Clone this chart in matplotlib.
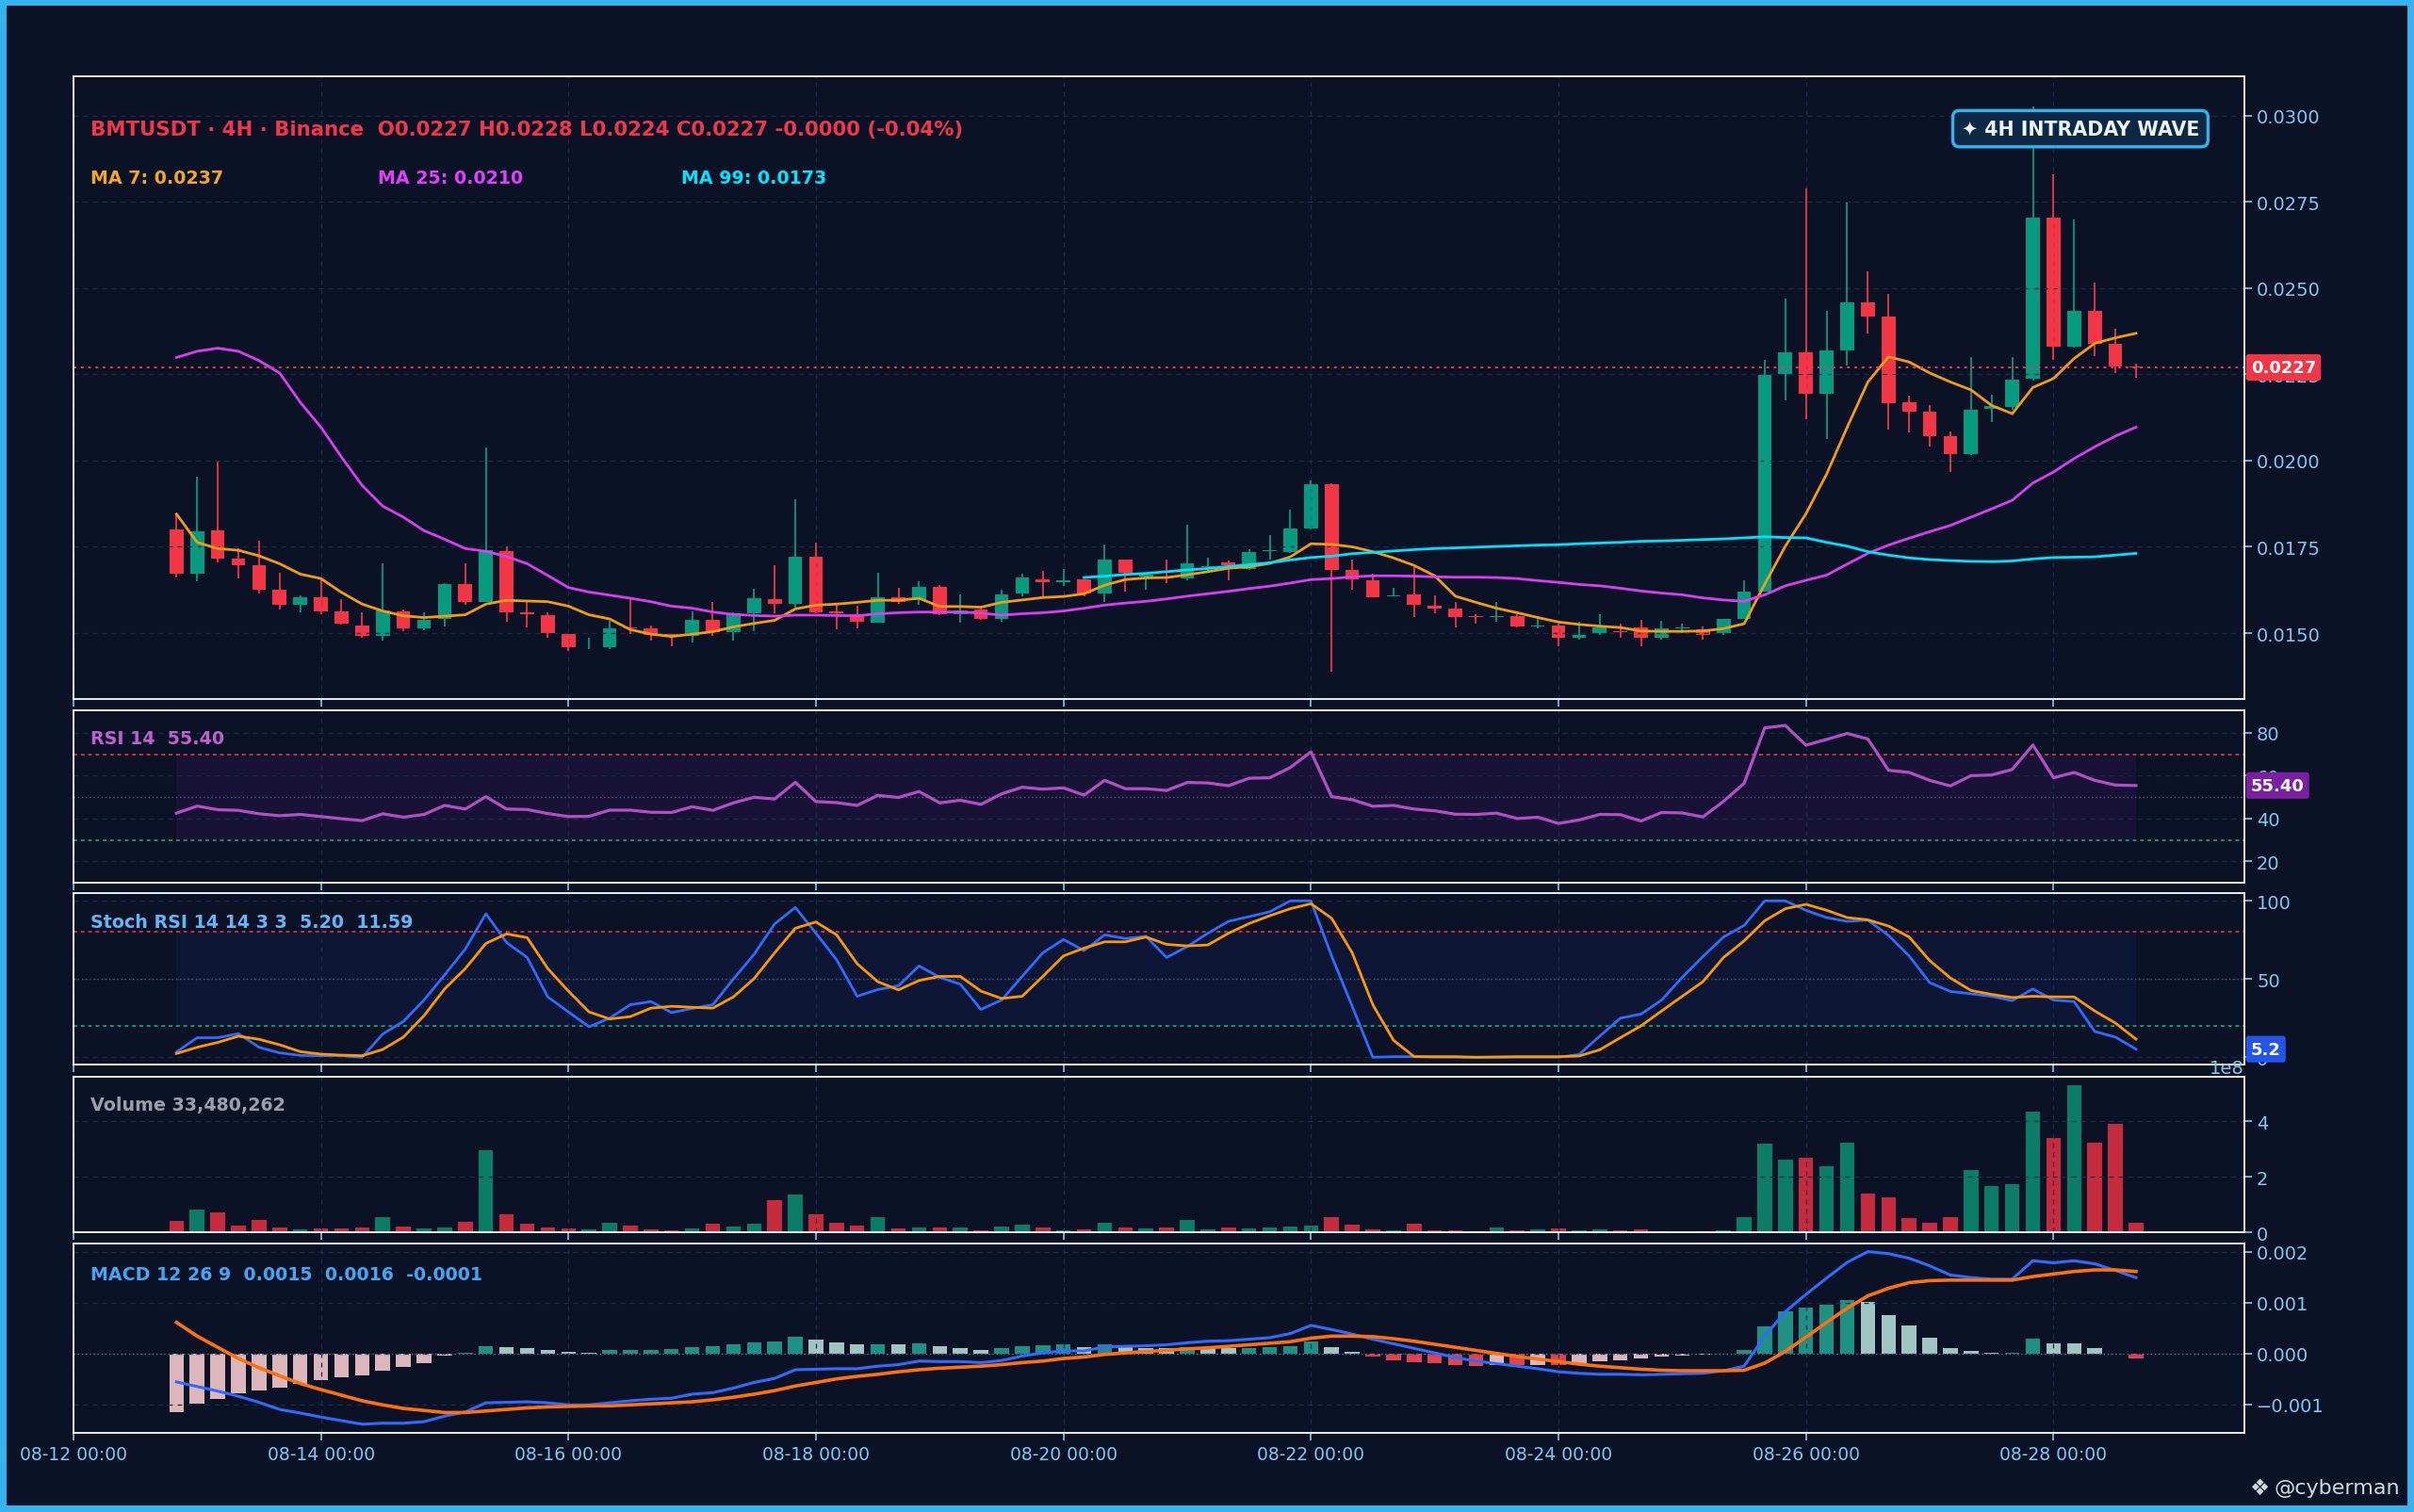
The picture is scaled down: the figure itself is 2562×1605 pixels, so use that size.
import matplotlib
matplotlib.use("Agg")
import matplotlib.dates as mdates
import matplotlib.pyplot as plt
import matplotlib.transforms as mtransforms
import numpy as np
import pandas as pd
from matplotlib.patches import Rectangle
from matplotlib.ticker import FixedLocator, FormatStrFormatter

# ---------------- data (BMTUSDT 4H) ----------------
FIRST_BAR = "2025-08-12 20:00"
N_BARS = 96
X_RANGE = ["2025-08-12 00:00", "2025-08-29 13:00"]
TICK_DATES = ["2025-08-12", "2025-08-14", "2025-08-16", "2025-08-18", "2025-08-20",
              "2025-08-22", "2025-08-24", "2025-08-26", "2025-08-28"]

OPEN = [0.01800, 0.01671, 0.01798, 0.01715, 0.01696, 0.01625, 0.01583, 0.01603, 0.01564, 0.01523,
        0.01491, 0.01564, 0.01513, 0.01540, 0.01641, 0.01589, 0.01737, 0.01561, 0.01553, 0.01498,
        0.01458, 0.01460, 0.01517, 0.01515, 0.01497, 0.01491, 0.01537, 0.01502, 0.01557, 0.01599,
        0.01584, 0.01720, 0.01564, 0.01555, 0.01529, 0.01605, 0.01596, 0.01635, 0.01555, 0.01568,
        0.01540, 0.01614, 0.01656, 0.01647, 0.01657, 0.01616, 0.01714, 0.01665, 0.01664, 0.01658,
        0.01690, 0.01705, 0.01687, 0.01737, 0.01736, 0.01802, 0.01931, 0.01683, 0.01654, 0.01607,
        0.01613, 0.01579, 0.01572, 0.01548, 0.01546, 0.01550, 0.01518, 0.01523, 0.01485, 0.01500,
        0.01505, 0.01517, 0.01485, 0.01513, 0.01510, 0.01500, 0.01540, 0.01621, 0.02251, 0.02313,
        0.02194, 0.02319, 0.02458, 0.02417, 0.02170, 0.02141, 0.02070, 0.02019, 0.02149, 0.02155,
        0.02238, 0.02704, 0.02331, 0.02433, 0.02338, 0.02271]
HIGH = [0.01845, 0.01954, 0.01998, 0.01745, 0.01767, 0.01674, 0.01609, 0.01659, 0.01597, 0.01559,
        0.01701, 0.01568, 0.01559, 0.01644, 0.01701, 0.02039, 0.01751, 0.01593, 0.01561, 0.01498,
        0.01487, 0.01536, 0.01598, 0.01523, 0.01498, 0.01564, 0.01589, 0.01559, 0.01629, 0.01698,
        0.01887, 0.01761, 0.01584, 0.01578, 0.01676, 0.01632, 0.01649, 0.01640, 0.01613, 0.01573,
        0.01627, 0.01671, 0.01679, 0.01687, 0.01657, 0.01758, 0.01714, 0.01674, 0.01712, 0.01813,
        0.01719, 0.01710, 0.01744, 0.01783, 0.01857, 0.01942, 0.01933, 0.01714, 0.01671, 0.01632,
        0.01691, 0.01610, 0.01591, 0.01555, 0.01591, 0.01557, 0.01550, 0.01526, 0.01534, 0.01554,
        0.01527, 0.01538, 0.01536, 0.01527, 0.01520, 0.01541, 0.01654, 0.02291, 0.02469, 0.02788,
        0.02433, 0.02748, 0.02548, 0.02482, 0.02187, 0.02160, 0.02084, 0.02299, 0.02190, 0.02299,
        0.03028, 0.02829, 0.02699, 0.02516, 0.02382, 0.02280]
LOW = [0.01660, 0.01650, 0.01705, 0.01658, 0.01616, 0.01568, 0.01561, 0.01554, 0.01524, 0.01485,
       0.01477, 0.01506, 0.01509, 0.01520, 0.01581, 0.01589, 0.01534, 0.01517, 0.01485, 0.01449,
       0.01454, 0.01454, 0.01496, 0.01477, 0.01461, 0.01473, 0.01491, 0.01479, 0.01506, 0.01558,
       0.01570, 0.01557, 0.01510, 0.01513, 0.01529, 0.01584, 0.01581, 0.01552, 0.01529, 0.01537,
       0.01532, 0.01606, 0.01605, 0.01636, 0.01606, 0.01591, 0.01620, 0.01625, 0.01645, 0.01652,
       0.01680, 0.01652, 0.01683, 0.01714, 0.01733, 0.01800, 0.01388, 0.01625, 0.01603, 0.01607,
       0.01546, 0.01557, 0.01516, 0.01526, 0.01532, 0.01516, 0.01513, 0.01463, 0.01482, 0.01494,
       0.01485, 0.01463, 0.01482, 0.01499, 0.01482, 0.01494, 0.01540, 0.01620, 0.02174, 0.02120,
       0.02063, 0.02275, 0.02369, 0.02090, 0.02082, 0.02042, 0.01967, 0.02016, 0.02113, 0.02146,
       0.02231, 0.02291, 0.02327, 0.02304, 0.02254, 0.02240]
CLOSE = [0.01671, 0.01795, 0.01715, 0.01696, 0.01625, 0.01583, 0.01603, 0.01564, 0.01526, 0.01491,
         0.01566, 0.01513, 0.01538, 0.01641, 0.01590, 0.01740, 0.01561, 0.01554, 0.01501, 0.01458,
         0.01460, 0.01515, 0.01515, 0.01495, 0.01494, 0.01537, 0.01502, 0.01557, 0.01600, 0.01584,
         0.01720, 0.01561, 0.01557, 0.01532, 0.01605, 0.01590, 0.01635, 0.01554, 0.01566, 0.01540,
         0.01613, 0.01660, 0.01647, 0.01654, 0.01616, 0.01714, 0.01675, 0.01668, 0.01659, 0.01703,
         0.01695, 0.01698, 0.01736, 0.01739, 0.01802, 0.01931, 0.01682, 0.01655, 0.01603, 0.01610,
         0.01581, 0.01570, 0.01546, 0.01546, 0.01550, 0.01518, 0.01523, 0.01485, 0.01495, 0.01516,
         0.01503, 0.01485, 0.01514, 0.01516, 0.01494, 0.01541, 0.01620, 0.02249, 0.02313, 0.02194,
         0.02319, 0.02458, 0.02418, 0.02167, 0.02142, 0.02071, 0.02019, 0.02146, 0.02157, 0.02236,
         0.02704, 0.02331, 0.02433, 0.02339, 0.02273, 0.02270]

MA7 = [0.01845, 0.01763, 0.01745, 0.01740, 0.01724, 0.01701, 0.01671, 0.01658, 0.01618, 0.01584,
       0.01564, 0.01550, 0.01545, 0.01549, 0.01553, 0.01584, 0.01595, 0.01593, 0.01591, 0.01578,
       0.01553, 0.01541, 0.01510, 0.01497, 0.01490, 0.01497, 0.01504, 0.01518, 0.01528, 0.01537,
       0.01570, 0.01581, 0.01584, 0.01589, 0.01595, 0.01595, 0.01601, 0.01577, 0.01577, 0.01575,
       0.01589, 0.01596, 0.01603, 0.01606, 0.01614, 0.01639, 0.01655, 0.01660, 0.01661, 0.01669,
       0.01678, 0.01688, 0.01692, 0.01702, 0.01721, 0.01759, 0.01757, 0.01750, 0.01736, 0.01718,
       0.01696, 0.01666, 0.01607, 0.01589, 0.01572, 0.01559, 0.01545, 0.01532, 0.01525, 0.01520,
       0.01516, 0.01506, 0.01505, 0.01505, 0.01506, 0.01513, 0.01527, 0.01642, 0.01752, 0.01846,
       0.01961, 0.02097, 0.02228, 0.02301, 0.02286, 0.02254, 0.02228, 0.02205, 0.02160, 0.02136,
       0.02212, 0.02238, 0.02296, 0.02340, 0.02356, 0.02369]
MA25 = [0.02299, 0.02317, 0.02326, 0.02317, 0.02290, 0.02254, 0.02169, 0.02097, 0.02010, 0.01928,
        0.01868, 0.01836, 0.01797, 0.01772, 0.01745, 0.01737, 0.01722, 0.01701, 0.01667, 0.01632,
        0.01619, 0.01610, 0.01601, 0.01591, 0.01578, 0.01572, 0.01561, 0.01554, 0.01551, 0.01549,
        0.01552, 0.01552, 0.01551, 0.01550, 0.01556, 0.01559, 0.01561, 0.01561, 0.01561, 0.01558,
        0.01552, 0.01556, 0.01559, 0.01564, 0.01572, 0.01581, 0.01587, 0.01592, 0.01599, 0.01607,
        0.01614, 0.01621, 0.01629, 0.01636, 0.01645, 0.01655, 0.01658, 0.01663, 0.01666, 0.01666,
        0.01665, 0.01663, 0.01662, 0.01662, 0.01661, 0.01658, 0.01652, 0.01647, 0.01641, 0.01637,
        0.01630, 0.01622, 0.01616, 0.01611, 0.01602, 0.01596, 0.01592, 0.01611, 0.01637, 0.01653,
        0.01668, 0.01700, 0.01731, 0.01755, 0.01775, 0.01794, 0.01812, 0.01836, 0.01860, 0.01885,
        0.01935, 0.01967, 0.02006, 0.02040, 0.02071, 0.02097]
MA99 = [np.nan] * 44 + [
        0.01661, 0.01665, 0.01670, 0.01673, 0.01678, 0.01683, 0.01687, 0.01693, 0.01698, 0.01704,
        0.01712, 0.01719, 0.01723, 0.01730, 0.01734, 0.01738, 0.01742, 0.01745, 0.01747, 0.01749,
        0.01751, 0.01753, 0.01755, 0.01756, 0.01759, 0.01761, 0.01763, 0.01766, 0.01767, 0.01769,
        0.01771, 0.01773, 0.01776, 0.01779, 0.01777, 0.01776, 0.01763, 0.01752, 0.01736, 0.01726,
        0.01718, 0.01713, 0.01710, 0.01708, 0.01707, 0.01709, 0.01715, 0.01719, 0.01720, 0.01721,
        0.01726, 0.01731]

RSI = [42.5, 45.8, 44.1, 43.8, 42.2, 41.3, 41.9, 40.9, 39.9, 39.0,
       42.2, 40.6, 41.9, 46.1, 44.4, 50.2, 44.4, 44.2, 42.3, 40.9,
       41.0, 43.9, 43.9, 42.9, 42.8, 45.5, 43.8, 47.3, 49.9, 49.1,
       56.9, 47.9, 47.4, 46.1, 50.8, 49.8, 52.6, 47.3, 48.5, 46.6,
       51.5, 54.6, 53.7, 54.3, 50.9, 57.8, 53.9, 53.9, 53.1, 56.8,
       56.6, 55.3, 58.8, 59.0, 63.8, 71.1, 50.2, 48.8, 45.7, 46.1,
       44.4, 43.6, 42.0, 41.9, 42.5, 40.0, 40.6, 37.7, 39.3, 41.9,
       41.8, 38.8, 42.8, 42.6, 40.7, 48.0, 56.4, 82.3, 83.4, 74.2,
       76.9, 79.7, 77.1, 62.5, 61.5, 57.8, 55.2, 60.0, 60.3, 62.9,
       74.3, 59.0, 61.5, 57.8, 55.6, 55.4]

STOCH_K = [3.4, 12.5, 12.5, 15.1, 6.4, 2.8, 1.2, 1.0, 1.0, 0.0,
           14.9, 22.9, 36.6, 52.7, 69.2, 91.8, 73.4, 63.8, 38.6, 29.0,
           19.5, 25.0, 33.6, 35.6, 28.6, 31.2, 33.6, 50.1, 65.8, 85.3,
           95.8, 79.3, 62.4, 39.0, 43.3, 45.7, 58.4, 51.1, 46.7, 30.6,
           36.6, 51.7, 66.8, 75.3, 68.2, 78.3, 75.9, 77.3, 63.8, 70.8,
           79.3, 86.9, 89.9, 93.0, 100.0, 100.0, 64.8, 32.6, 0.0, 0.4,
           0.4, 0.0, 0.0, 0.0, 0.0, 0.0, 0.0, 0.0, 1.8, 13.5,
           25.0, 27.6, 36.6, 51.1, 64.4, 76.9, 84.3, 100.0, 100.0, 94.0,
           89.3, 86.9, 87.7, 77.9, 64.8, 47.7, 42.1, 40.6, 39.0, 36.2,
           43.7, 36.6, 35.6, 16.5, 12.9, 5.2]
STOCH_D = [2.4, 6.4, 9.5, 13.5, 11.5, 8.0, 3.6, 2.0, 1.4, 1.0,
           5.0, 12.9, 26.6, 43.7, 56.7, 72.8, 78.9, 76.5, 56.7, 42.3,
           29.0, 24.5, 26.0, 31.4, 32.6, 32.0, 31.4, 38.6, 50.3, 66.8,
           82.5, 86.5, 78.3, 59.8, 48.3, 43.1, 49.1, 51.7, 51.7, 42.3,
           37.6, 39.0, 51.7, 64.8, 69.8, 73.8, 73.8, 76.9, 72.2, 71.2,
           71.8, 79.3, 85.5, 90.5, 95.0, 98.2, 88.9, 66.8, 33.6, 10.9,
           0.4, 0.4, 0.4, 0.0, 0.2, 0.4, 0.4, 0.4, 0.8, 4.8,
           12.5, 20.1, 29.6, 39.0, 48.3, 63.8, 74.4, 87.3, 95.0, 97.8,
           94.0, 89.3, 87.9, 83.9, 76.9, 61.8, 50.7, 42.7, 40.2, 38.2,
           39.0, 38.6, 38.6, 29.6, 21.9, 11.59]

# volume in millions of BMT
VOLUME_M = [42, 82, 72, 25, 45, 18, 11, 15, 15, 18,
            55, 21, 15, 18, 38, 296, 66, 32, 18, 15,
            11, 35, 25, 11, 8, 15, 32, 21, 32, 116,
            137, 66, 35, 25, 55, 15, 18, 18, 18, 8,
            21, 28, 18, 8, 11, 35, 18, 15, 18, 45,
            11, 18, 15, 18, 21, 25, 55, 28, 11, 8,
            31, 8, 8, 4, 18, 8, 11, 15, 8, 11,
            8, 11, 4, 1, 4, 8, 55, 318, 261, 267,
            237, 321, 139, 126, 52, 35, 55, 224, 166, 173,
            436, 338, 530, 321, 389, 33.480262]

MACD_LINE = [-0.00056, -0.00065, -0.00074, -0.00084, -0.00096, -0.00110, -0.00117, -0.00125, -0.00132, -0.00139,
             -0.00137, -0.00137, -0.00134, -0.00123, -0.00115, -0.00097, -0.00096, -0.00095, -0.00097, -0.00101,
             -0.00101, -0.00097, -0.00093, -0.00090, -0.00088, -0.00080, -0.00077, -0.00068, -0.00057, -0.00049,
             -0.00032, -0.00031, -0.00030, -0.00030, -0.00025, -0.00022, -0.00015, -0.00016, -0.00016, -0.00018,
             -0.00014, -0.00005, 0.00001, 0.00005, 0.00005, 0.00013, 0.00014, 0.00015, 0.00017, 0.00021,
             0.00024, 0.00025, 0.00028, 0.00031, 0.00039, 0.00055, 0.00047, 0.00038, 0.00028, 0.00019,
             0.00010, 0.00001, -0.00008, -0.00015, -0.00020, -0.00025, -0.00030, -0.00036, -0.00039, -0.00041,
             -0.00041, -0.00042, -0.00041, -0.00040, -0.00039, -0.00034, -0.00025, 0.00034, 0.00082, 0.00116,
             0.00148, 0.00179, 0.00200, 0.00196, 0.00187, 0.00172, 0.00154, 0.00149, 0.00146, 0.00146,
             0.00182, 0.00178, 0.00182, 0.00176, 0.00163, 0.00149]
MACD_SIGNAL = [0.00061, 0.00034, 0.00012, -0.00010, -0.00028, -0.00044, -0.00059, -0.00071, -0.00082, -0.00093,
               -0.00101, -0.00108, -0.00112, -0.00116, -0.00116, -0.00113, -0.00110, -0.00107, -0.00105, -0.00104,
               -0.00103, -0.00103, -0.00101, -0.00099, -0.00097, -0.00095, -0.00091, -0.00086, -0.00080, -0.00073,
               -0.00064, -0.00057, -0.00050, -0.00045, -0.00041, -0.00036, -0.00032, -0.00029, -0.00027, -0.00025,
               -0.00022, -0.00018, -0.00015, -0.00010, -0.00007, -0.00002, 0.00001, 0.00004, 0.00006, 0.00009,
               0.00011, 0.00014, 0.00017, 0.00020, 0.00023, 0.00030, 0.00034, 0.00034, 0.00033, 0.00029,
               0.00024, 0.00018, 0.00012, 0.00006, 0.00000, -0.00006, -0.00011, -0.00016, -0.00021, -0.00025,
               -0.00028, -0.00031, -0.00033, -0.00034, -0.00034, -0.00034, -0.00033, -0.00019, 0.00004, 0.00032,
               0.00061, 0.00089, 0.00113, 0.00128, 0.00139, 0.00143, 0.00144, 0.00144, 0.00144, 0.00144,
               0.00151, 0.00156, 0.00161, 0.00164, 0.00164, 0.00161]
MACD_HIST = [-0.00116, -0.00099, -0.00090, -0.00079, -0.00073, -0.00068, -0.00060, -0.00053, -0.00047, -0.00044,
             -0.00033, -0.00027, -0.00020, -0.00005, 0.00001, 0.00015, 0.00013, 0.00011, 0.00007, 0.00004,
             0.00002, 0.00006, 0.00007, 0.000075, 0.00009, 0.00013, 0.000135, 0.00017, 0.00022, 0.00024,
             0.00033, 0.00028, 0.00022, 0.00018, 0.000185, 0.00018, 0.00020, 0.00015, 0.00011, 0.00007,
             0.00011, 0.00015, 0.000155, 0.00017, 0.00013, 0.00017, 0.00013, 0.00011, 0.000105, 0.00013,
             0.00011, 0.00010, 0.00011, 0.00012, 0.00015, 0.00024, 0.00013, 0.00004, -0.00007, -0.00013,
             -0.00018, -0.00020, -0.00023, -0.00024, -0.00022, -0.00023, -0.00022, -0.00023, -0.00019, -0.00016,
             -0.00013, -0.00010, -0.00007, -0.00005, -0.00003, -0.00001, 0.00007, 0.00053, 0.00083, 0.00090,
             0.00096, 0.00105, 0.00102, 0.00075, 0.00054, 0.00031, 0.00011, 0.00005, 0.00001, 0.00002,
             0.00029, 0.00020, 0.000195, 0.00011, -0.00001, -0.00010]

LAST_PRICE = 0.0227
HEADER = "BMTUSDT · 4H · Binance  O0.0227 H0.0228 L0.0224 C0.0227 -0.0000 (-0.04%)"

# ---------------- style ----------------
BG = "#0b1226"
GRID = "#1b2a4c"
TICK = "#7fc8f4"
UP, DOWN = "#089981", "#f23645"
FS_TICK = 14

x = mdates.date2num(pd.date_range(FIRST_BAR, periods=N_BARS, freq="4h"))
xlim = mdates.date2num(pd.to_datetime(X_RANGE))
o, h, l, c = map(np.array, (OPEN, HIGH, LOW, CLOSE))
up = c >= o
bar_col = np.where(up, UP, DOWN)

fig = plt.figure(figsize=(25.62, 16.06), dpi=100, facecolor=BG)
L, W = 0.0304, 0.8993
ax_p = fig.add_axes([L, 0.5374, W, 0.4115])
ax_r = fig.add_axes([L, 0.4159, W, 0.1140], sharex=ax_p)
ax_s = fig.add_axes([L, 0.2958, W, 0.1133], sharex=ax_p)
ax_v = fig.add_axes([L, 0.1849, W, 0.1028], sharex=ax_p)
ax_m = fig.add_axes([L, 0.0523, W, 0.1252], sharex=ax_p)

for ax in (ax_p, ax_r, ax_s, ax_v, ax_m):
    ax.set_facecolor(BG)
    for sp in ax.spines.values():
        sp.set_color("white")
        sp.set_linewidth(1.3)
    ax.yaxis.tick_right()
    ax.tick_params(colors=TICK, labelsize=FS_TICK, length=6, width=1.2)
    ax.grid(True, color=GRID, ls=(0, (4, 4)), lw=0.9)
    ax.set_axisbelow("line")
    if ax is not ax_m:
        ax.tick_params(labelbottom=False)

ax_p.set_xlim(*xlim)
ax_p.xaxis.set_major_locator(FixedLocator(mdates.date2num(pd.to_datetime(TICK_DATES))))
ax_p.xaxis.set_major_formatter(mdates.DateFormatter("%m-%d %H:%M"))
ax_m.tick_params(axis="x", labelsize=13.5)

# --- price panel ---
ax_p.bar(x, np.maximum(np.abs(c - o), 0.00002), bottom=np.minimum(o, c), width=0.112,
         color=bar_col, linewidth=0)
ax_p.vlines(x, l, h, colors=bar_col, lw=1.3)
ax_p.plot(x, MA7, color="#f39c12", lw=2.0)
ax_p.plot(x, MA25, color="#d83ff0", lw=2.0)
ax_p.plot(x, MA99, color="#00e1ff", lw=2.0)
ax_p.axhline(LAST_PRICE, color=DOWN, ls=(0, (1.5, 2.5)), lw=1.4)
ax_p.set_ylim(0.01309, 0.03114)
ax_p.set_yticks([0.0150, 0.0175, 0.0200, 0.0225, 0.0250, 0.0275, 0.0300])
ax_p.yaxis.set_major_formatter(FormatStrFormatter("%.4f"))

ax_p.text(0.0078, 0.916, HEADER, transform=ax_p.transAxes, color="#f0364a",
          fontsize=15.3, fontweight="bold", va="center")
for xf, txt, col in [(0.0078, "MA 7: 0.0237", "#f5a623"),
                     (0.1404, "MA 25: 0.0210", "#e040fb"),
                     (0.2800, "MA 99: 0.0173", "#00e5ff")]:
    ax_p.text(xf, 0.837, txt, transform=ax_p.transAxes, color=col,
              fontsize=13.7, fontweight="bold", va="center")
ax_p.text(0.9245, 0.916, "\u2726 4H INTRADAY WAVE", transform=ax_p.transAxes,
          color="#eaf5fd", fontsize=14.8, fontweight="bold", ha="center", va="center",
          bbox=dict(boxstyle="round,pad=0.45,rounding_size=0.35", fc="#0c2844",
                    ec="#2fb4f0", lw=2.4))

def value_tag(ax, y, txt, fc):
    tr = mtransforms.blended_transform_factory(ax.transAxes, ax.transData)
    ax.text(1.003, y, txt, transform=tr, color="white", fontsize=13, fontweight="bold",
            ha="left", va="center", zorder=10, clip_on=False,
            bbox=dict(boxstyle="round,pad=0.28,rounding_size=0.15", fc=fc, ec="none"))

value_tag(ax_p, LAST_PRICE, "0.0227", DOWN)

# --- RSI ---
ax_r.fill_between([x[0], x[-1]], 30, 70, color="#6a1b9a", alpha=0.14, lw=0)
ax_r.axhline(70, color="#c9303f", ls=(0, (2, 2)), lw=1.4)
ax_r.axhline(30, color="#0c9a6a", ls=(0, (2, 2)), lw=1.4)
ax_r.axhline(50, color="#4c5874", ls=(0, (1, 2)), lw=1.0)
ax_r.plot(x, RSI, color="#b24fc4", lw=2.3)
ax_r.set_ylim(10, 90.5)
ax_r.set_yticks([20, 40, 60, 80])
ax_r.text(0.0078, 0.84, "RSI 14  55.40", transform=ax_r.transAxes, color="#c061cb",
          fontsize=13.7, fontweight="bold", va="center")
value_tag(ax_r, RSI[-1], "55.40", "#7b1fa2")

# --- Stoch RSI ---
ax_s.fill_between([x[0], x[-1]], 20, 80, color="#2962ff", alpha=0.07, lw=0)
ax_s.axhline(80, color="#c9303f", ls=(0, (2, 2)), lw=1.4)
ax_s.axhline(20, color="#0c9a6a", ls=(0, (2, 2)), lw=1.4)
ax_s.axhline(50, color="#4c5874", ls=(0, (1, 2)), lw=1.0)
ax_s.plot(x, STOCH_K, color="#2f6bff", lw=2.0)
ax_s.plot(x, STOCH_D, color="#ff9800", lw=2.0)
ax_s.set_ylim(-4.6, 105)
ax_s.set_yticks([0, 50, 100])
ax_s.text(0.0078, 0.83, "Stoch RSI 14 14 3 3  5.20  11.59", transform=ax_s.transAxes,
          color="#64b5f6", fontsize=13.7, fontweight="bold", va="center")
value_tag(ax_s, STOCH_K[-1], "5.2", "#2356e8")

# --- Volume ---
vol = np.array(VOLUME_M) * 1e6
ax_v.bar(x, vol, width=0.118, color=np.where(up, "#0b7c68", "#c52a3d"), linewidth=0)
ax_v.set_ylim(0, 5.6e8)
ax_v.set_yticks([0, 2e8, 4e8])
ax_v.yaxis.get_offset_text().set_color(TICK)
ax_v.yaxis.get_offset_text().set_fontsize(FS_TICK)
ax_v.text(0.0078, 0.82, f"Volume {int(round(vol[-1])):,}", transform=ax_v.transAxes,
          color="#9aa0a8", fontsize=13.7, fontweight="bold", va="center")

# --- MACD ---
hist = np.array(MACD_HIST)
prev = np.concatenate([[hist[0]], hist[:-1]])
hcol = np.where(hist >= 0,
                np.where(hist > prev, "#1f9184", "#9fc6c3"),
                np.where(hist < prev, "#e0424f", "#ddb6bb"))
ax_m.bar(x, hist, width=0.118, color=hcol, linewidth=0)
ax_m.axhline(0, color="#5b6a86", ls=(0, (1, 2)), lw=1.0)
ax_m.plot(x, MACD_LINE, color="#2f6bff", lw=2.2)
ax_m.plot(x, MACD_SIGNAL, color="#ff7010", lw=2.6)
ax_m.set_ylim(-0.00156, 0.00216)
ax_m.set_yticks([-0.001, 0.0, 0.001, 0.002])
ax_m.text(0.0078, 0.84, "MACD 12 26 9  0.0015  0.0016  -0.0001", transform=ax_m.transAxes,
          color="#42a5f5", fontsize=13.7, fontweight="bold", va="center")

# watermark + frame
fig.text(0.9318, 0.0163, "\u2756", color="#d0d8e0", fontsize=17, ha="left", va="center")
fig.text(0.9420, 0.0163, "@cyberman", color="#d0d8e0", fontsize=16, ha="left", va="center")
fig.patches.append(Rectangle((0, 0), 1, 1, transform=fig.transFigure, fill=False,
                             ec="#36b4f0", lw=10))

fig.savefig("out.png", dpi=100, facecolor=BG)
